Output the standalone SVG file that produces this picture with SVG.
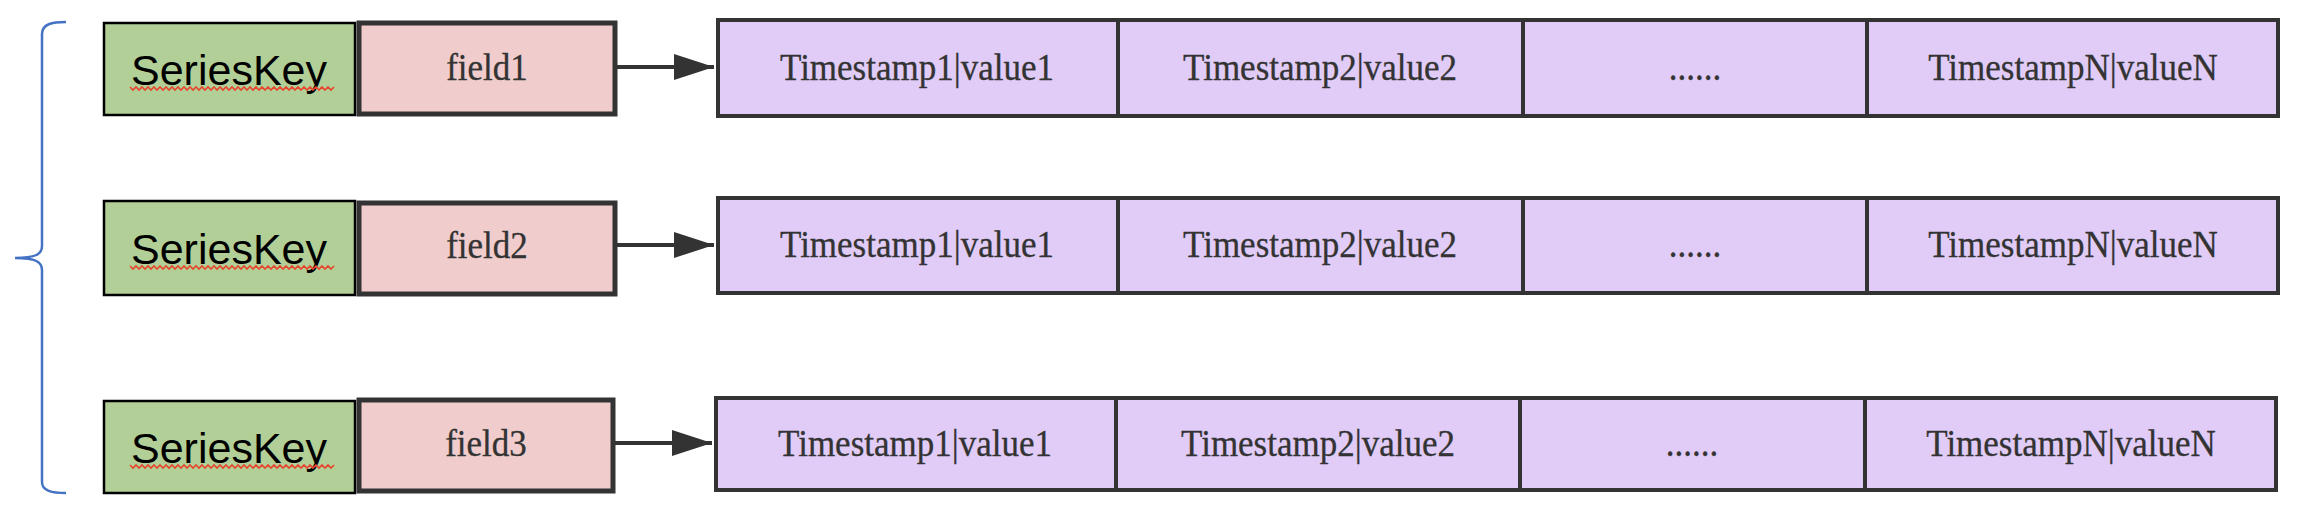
<svg xmlns="http://www.w3.org/2000/svg" width="2298" height="514" viewBox="0 0 2298 514">
<style>
.key{fill:#b2cf97;stroke:#000;stroke-width:2.5}
.fld{fill:#f0cdcc;stroke:#333;stroke-width:5}
.ts{fill:#e0ccf7;stroke:#333;stroke-width:4}
.div{stroke:#333;stroke-width:4}
.kt{font-family:"Liberation Sans",Arial,sans-serif;font-size:43px;fill:#000;text-anchor:middle}
.st{font-family:"Liberation Serif","Times New Roman",serif;font-size:35px;fill:#333;stroke:#333;stroke-width:0.3;text-anchor:middle}
.sq{fill:none;stroke:#e8452f;stroke-width:1.6}
.conn{stroke:#333;stroke-width:4;fill:none}
.brace{fill:none;stroke:#4472c4;stroke-width:2.5}
</style>
<defs>
<marker id="ah" markerUnits="userSpaceOnUse" markerWidth="40" markerHeight="26" refX="40" refY="13" orient="auto">
<path d="M0 0 L40 13 L0 26 Z" fill="#333"/>
</marker>
<path id="squig" d="M0 0 l3 3 l3 -3 l3 3 l3 -3 l3 3 l3 -3 l3 3 l3 -3 l3 3 l3 -3 l3 3 l3 -3 l3 3 l3 -3 l3 3 l3 -3 l3 3 l3 -3 l3 3 l3 -3 l3 3 l3 -3 l3 3 l3 -3 l3 3 l3 -3 l3 3 l3 -3 l3 3 l3 -3 l3 3 l3 -3 l3 3 l3 -3 l3 3 l3 -3 l3 3 l3 -3 l3 3 l3 -3 l3 3 l3 -3 l3 3 l3 -3 l3 3 l3 -3 l3 3 l3 -3 l3 3 l3 -3 l3 3 l3 -3 l3 3 l3 -3 l3 3 l3 -3 l3 3 l3 -3 l3 3 l3 -3 l3 3 l3 -3 l3 3 l3 -3 l3 3 l3 -3 l3 3 l3 -3"/>
</defs>
<rect width="2298" height="514" fill="#fff"/>

<g id="brace">
<path class="brace" d="M66 22 C52 22 42 24 42 34 L42 246 C42 254 36 258 15 258 C36 258 42 262 42 270 L42 482 C42 491 52 493 66 493"/>
</g>

<g id="row1">
<g id="serieskey1"><rect class="key" x="104" y="23" width="251" height="92"/><text class="kt" x="229" y="85">SeriesKey</text><use href="#squig" class="sq" x="130" y="87"/></g>
<g id="field1"><rect class="fld" x="359" y="23" width="256" height="91"/><text class="st" x="487" y="80" transform="matrix(1 0 0 1.1 0 -8)">field1</text></g>
<g id="ts1">
<rect class="ts" x="718" y="20" width="1560" height="96"/>
<line class="div" x1="1118" y1="20" x2="1118" y2="116"/>
<line class="div" x1="1523" y1="20" x2="1523" y2="116"/>
<line class="div" x1="1867" y1="20" x2="1867" y2="116"/>
<g transform="matrix(1 0 0 1.1 0 -8)">
<text class="st" x="917" y="80">Timestamp1|value1</text>
<text class="st" x="1320" y="80">Timestamp2|value2</text>
<text class="st" x="1695" y="80">......</text>
<text class="st" x="2073" y="80">TimestampN|valueN</text>
</g>
</g>
</g>

<g id="row2">
<g id="serieskey2"><rect class="key" x="104" y="201" width="251" height="94"/><text class="kt" x="229" y="264">SeriesKey</text><use href="#squig" class="sq" x="130" y="266"/></g>
<g id="field2"><rect class="fld" x="359" y="203" width="256" height="91"/><text class="st" x="487" y="258" transform="matrix(1 0 0 1.1 0 -25.8)">field2</text></g>
<g id="ts2">
<rect class="ts" x="718" y="198" width="1560" height="95"/>
<line class="div" x1="1118" y1="198" x2="1118" y2="293"/>
<line class="div" x1="1523" y1="198" x2="1523" y2="293"/>
<line class="div" x1="1867" y1="198" x2="1867" y2="293"/>
<g transform="matrix(1 0 0 1.1 0 -25.7)">
<text class="st" x="917" y="257">Timestamp1|value1</text>
<text class="st" x="1320" y="257">Timestamp2|value2</text>
<text class="st" x="1695" y="257">......</text>
<text class="st" x="2073" y="257">TimestampN|valueN</text>
</g>
</g>
</g>

<g id="row3">
<g id="serieskey3"><rect class="key" x="104" y="401" width="251" height="92"/><text class="kt" x="229" y="463">SeriesKey</text><use href="#squig" class="sq" x="130" y="465"/></g>
<g id="field3"><rect class="fld" x="359" y="400" width="254" height="91"/><text class="st" x="486" y="456" transform="matrix(1 0 0 1.1 0 -45.6)">field3</text></g>
<g id="ts3">
<rect class="ts" x="716" y="398" width="1560" height="92"/>
<line class="div" x1="1116" y1="398" x2="1116" y2="490"/>
<line class="div" x1="1520" y1="398" x2="1520" y2="490"/>
<line class="div" x1="1865" y1="398" x2="1865" y2="490"/>
<g transform="matrix(1 0 0 1.1 0 -45.6)">
<text class="st" x="915" y="456">Timestamp1|value1</text>
<text class="st" x="1318" y="456">Timestamp2|value2</text>
<text class="st" x="1692" y="456">......</text>
<text class="st" x="2071" y="456">TimestampN|valueN</text>
</g>
</g>
</g>

<g id="connectors">
<line class="conn" x1="617" y1="67" x2="714" y2="67" marker-end="url(#ah)"/>
<line class="conn" x1="617" y1="245" x2="714" y2="245" marker-end="url(#ah)"/>
<line class="conn" x1="615" y1="443" x2="712" y2="443" marker-end="url(#ah)"/>
</g>
</svg>
